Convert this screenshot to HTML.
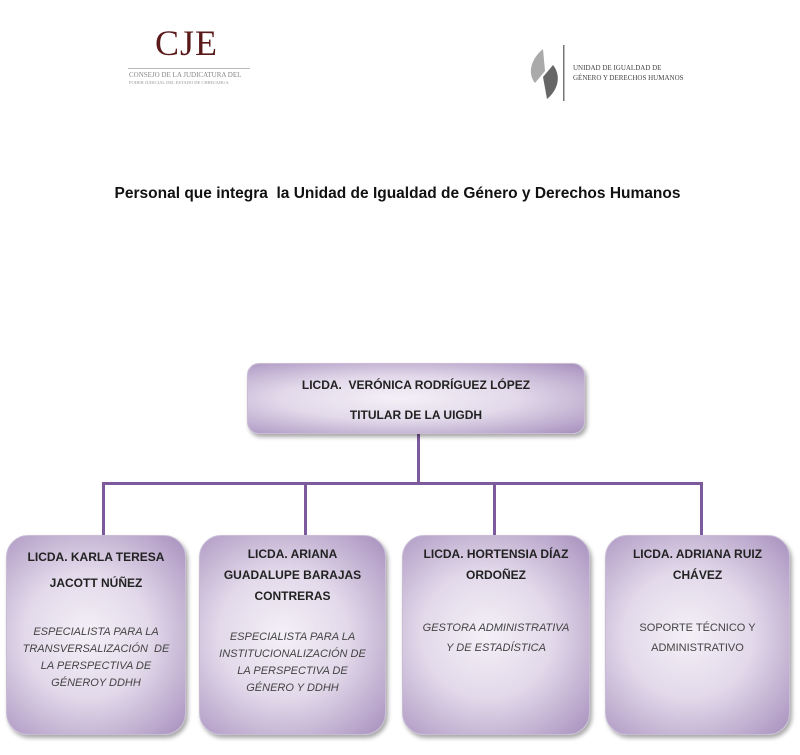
<!DOCTYPE html>
<html><head><meta charset="utf-8"><style>
body{margin:0;width:800px;height:755px;background:#fff;position:relative;font-family:"Liberation Sans",sans-serif;overflow:hidden}
.box{position:absolute;box-sizing:border-box;border:1.5px solid #c9bdd6;border-radius:22px;
background:radial-gradient(ellipse at 45% 50%,#f4f0f7 0%,#e2d9ea 45%,#b8a4ca 85%,#a58fbb 100%);
box-shadow:2px 3px 4px rgba(0,0,0,.35);text-align:center;color:#222}
.n{font-weight:bold;font-size:12px;line-height:21px}
.r{font-style:italic;font-size:11px;line-height:17px;color:#444;margin-top:30px}
.ln{position:absolute;background:#7d5a9c}
</style></head><body>
<div style="position:absolute;left:155px;top:22px;font-family:'Liberation Serif',serif;font-size:36px;color:#5a1a1a;letter-spacing:1px">CJE</div>
<div style="position:absolute;left:128px;top:68px;width:122px;border-top:1px solid #bbb"></div>
<div style="position:absolute;left:129px;top:71px;font-family:'Liberation Serif',serif;font-size:7px;color:#888;white-space:nowrap">CONSEJO DE LA JUDICATURA DEL</div>
<div style="position:absolute;left:129px;top:80px;font-family:'Liberation Serif',serif;font-size:4.5px;color:#999;white-space:nowrap">PODER JUDICIAL DEL ESTADO DE CHIHUAHUA</div>
<svg style="position:absolute;left:525px;top:45px" width="40" height="58"><path d="M18 4 C6 14 2 28 10 38 L20 26 Z" fill="#aaa"/><path d="M22 54 C34 44 36 30 28 20 L18 32 Z" fill="#666"/><rect x="38" y="0" width="1.5" height="56" fill="#777"/></svg>
<div style="position:absolute;left:573px;top:63px;font-family:'Liberation Serif',serif;font-size:7px;color:#444;line-height:10px;white-space:nowrap">UNIDAD DE IGUALDAD DE<br>GÉNERO Y DERECHOS HUMANOS</div>
<div style="position:absolute;left:0;width:795px;top:185px;text-align:center;font-weight:bold;font-size:15.5px;color:#111;white-space:nowrap">Personal que integra &nbsp;la Unidad de Igualdad de Género y Derechos Humanos</div>
<div class="ln" style="left:417px;top:434px;width:3px;height:50px"></div>
<div class="ln" style="left:102px;top:482px;width:600px;height:3px"></div>
<div class="ln" style="left:102px;top:482px;width:3px;height:54px"></div>
<div class="ln" style="left:304px;top:482px;width:3px;height:54px"></div>
<div class="ln" style="left:493px;top:482px;width:3px;height:54px"></div>
<div class="ln" style="left:700px;top:482px;width:3px;height:54px"></div>
<div class="box" style="left:247px;top:363px;width:338px;height:71px;border-radius:12px;padding-top:6px"><div class="n" style="line-height:30px">LICDA. &nbsp;VERÓNICA RODRÍGUEZ LÓPEZ<br>TITULAR DE LA UIGDH</div></div>
<div class="box" style="left:6px;top:535px;width:180px;height:200px;padding-top:8px"><div class="n" style="line-height:26px">LICDA. KARLA TERESA<br>JACOTT NÚÑEZ</div><div class="r" style="margin-top:28px">ESPECIALISTA PARA LA<br>TRANSVERSALIZACIÓN &nbsp;DE<br>LA PERSPECTIVA DE<br>GÉNEROY DDHH</div></div>
<div class="box" style="left:199px;top:535px;width:187px;height:200px;padding-top:8px"><div class="n">LICDA. ARIANA<br>GUADALUPE BARAJAS<br>CONTRERAS</div><div class="r" style="margin-top:22px">ESPECIALISTA PARA LA<br>INSTITUCIONALIZACIÓN DE<br>LA PERSPECTIVA DE<br>GÉNERO Y DDHH</div></div>
<div class="box" style="left:402px;top:535px;width:188px;height:200px;padding-top:8px"><div class="n">LICDA. HORTENSIA DÍAZ<br>ORDOÑEZ</div><div class="r" style="margin-top:32px;line-height:20px">GESTORA ADMINISTRATIVA<br>Y DE ESTADÍSTICA</div></div>
<div class="box" style="left:605px;top:535px;width:185px;height:200px;padding-top:8px"><div class="n">LICDA. ADRIANA RUIZ<br>CHÁVEZ</div><div class="r" style="margin-top:32px;font-style:normal;line-height:20px">SOPORTE TÉCNICO Y<br>ADMINISTRATIVO</div></div>
</body></html>
